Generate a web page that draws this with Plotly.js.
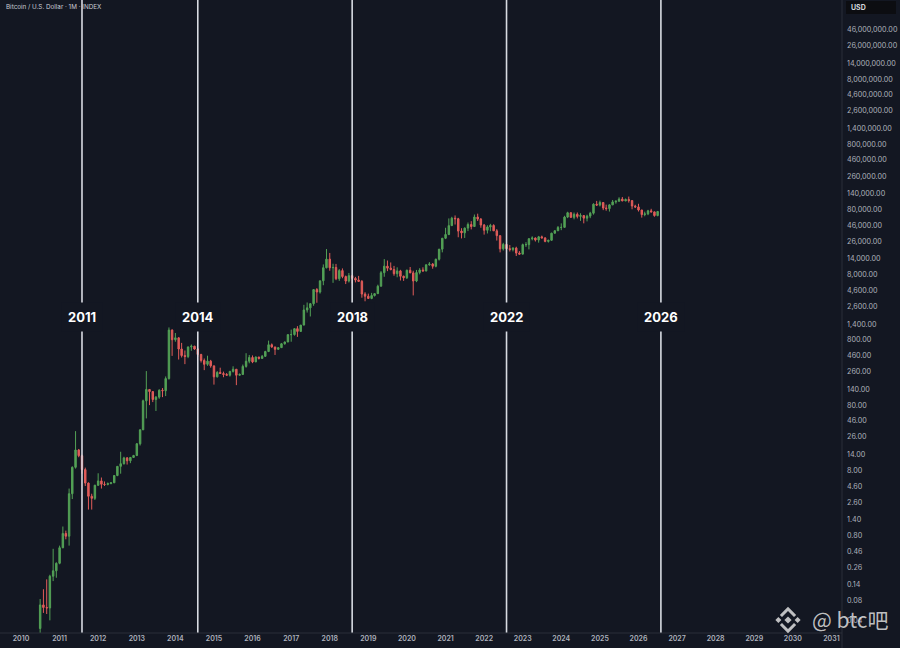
<!DOCTYPE html>
<html>
<head>
<meta charset="utf-8">
<script src="https://cdn.plot.ly/plotly-3.0.1.min.js"></script>
<style>
  html, body { margin: 0; padding: 0; background: #131722; }
  #chart { width: 900px; height: 648px; }
</style>
</head>
<body>
<div id="chart"></div>
<script>
// ---- Data: monthly BTC/USD candles, Jul 2010 .. Jul 2026 ----
const startYear = 2010, startMonth = 7;

const openP = [
  0.03, 0.069, 0.063, 0.062, 0.19, 0.23,
  0.30, 0.52, 0.86, 0.78, 3.5, 8.9, 16.4, 13.4, 8.2, 5.1, 3.2, 2.97,
  4.72, 5.5, 4.9, 4.85, 5.0, 5.15, 6.65, 9.2, 10.1, 12.4, 11.2, 12.6,
  13.5, 20.4, 33.4, 93, 139, 129, 97.5, 106, 135, 133, 204, 1130,
  805, 860, 580, 460, 445, 625, 640, 580, 478, 387, 338, 378,
  320, 217, 254, 244, 236, 230, 263, 284, 230, 236, 314, 377,
  430, 368, 437, 416, 448, 531, 674, 624, 573, 609, 698, 742,
  963, 965, 1190, 1080, 1350, 2300, 2480, 2875, 4730, 4340, 6450, 10230,
  13860, 10220, 10330, 6940, 9240, 7490, 6390, 7730, 7020, 6630, 6320, 4040,
  3740, 3460, 3830, 4100, 5320, 8580, 10820, 10090, 9600, 8290, 9150, 7570,
  7190, 9350, 8530, 6410, 8630, 9450, 9140, 11350, 11650, 10780, 13800, 19700,
  28990, 33110, 45240, 58800, 57750, 37330, 35040, 41460, 47100, 43820, 61300, 57000,
  46200, 38470, 43190, 45540, 37640, 31790, 19940, 23300, 20050, 19420, 20490, 17170,
  16540, 23130, 23140, 28470, 29230, 27210, 30470, 29230, 25940, 26970, 34650, 37720,
  42280, 42580, 61170, 71330, 60640, 67520, 62680, 64630, 58980, 63330, 70220, 96410,
  93430, 102400, 84350, 82550, 94200, 104600, 107100, 115700, 108200, 114000, 109500, 90400,
  87600, 78600, 66900, 68500, 76300, 73500, 64500
];

const highP = [
  0.085, 0.12, 0.17, 0.2, 0.5, 0.31,
  0.56, 1.10, 0.95, 4.2, 9.2, 31.9, 17.0, 13.9, 8.8, 5.2, 3.5, 4.8,
  7.2, 6.2, 5.4, 5.2, 5.2, 6.7, 9.3, 15.4, 12.9, 12.8, 12.8, 13.8,
  21, 34, 97, 266, 140, 130, 110, 140, 146, 220, 1242, 1163,
  1020, 880, 720, 550, 630, 680, 650, 600, 490, 415, 458, 395,
  320, 265, 300, 261, 248, 268, 315, 285, 245, 335, 500, 470,
  462, 445, 440, 470, 545, 780, 705, 627, 615, 718, 755, 980,
  1150, 1210, 1300, 1350, 2760, 3000, 2920, 4760, 4980, 6470, 11500, 19800,
  17250, 11790, 11700, 9760, 9990, 7760, 8500, 7770, 7410, 7670, 6620, 4310,
  4100, 4210, 4140, 5620, 9100, 13880, 13200, 12330, 10920, 10370, 9500, 7750,
  9580, 10500, 9200, 9460, 10070, 10380, 11440, 12470, 12070, 14100, 19860, 29300,
  41950, 58350, 61780, 64850, 59590, 41330, 42400, 50500, 52950, 67000, 69000, 59100,
  47990, 45800, 48190, 47440, 40020, 31980, 24670, 25200, 22800, 21100, 21480, 18390,
  23950, 25250, 29190, 31000, 29820, 31430, 31800, 30200, 27480, 35200, 38420, 44700,
  48970, 64000, 73800, 72800, 71950, 72000, 70000, 65100, 66500, 73620, 99600, 108300,
  109350, 102500, 95000, 95700, 111900, 110500, 123200, 124500, 117900, 126200, 111000, 94600,
  97900, 79000, 74000, 79000, 82000, 74500, 76000
];

const lowP = [
  0.025, 0.052, 0.05, 0.04, 0.16, 0.18,
  0.29, 0.51, 0.70, 0.56, 2.9, 8.5, 12.7, 7.1, 4.6, 2.0, 2.0, 2.8,
  4.6, 4.2, 4.6, 4.7, 4.9, 5.1, 6.5, 7.1, 9.8, 9.8, 10.3, 12.4,
  13.2, 19.2, 33.2, 50, 80, 89, 65, 100, 106, 110, 197, 455,
  750, 400, 430, 340, 420, 545, 565, 440, 360, 275, 320, 300,
  165, 212, 240, 214, 225, 219, 253, 162, 225, 235, 300, 350,
  352, 365, 400, 412, 440, 520, 605, 470, 567, 605, 675, 740,
  750, 930, 890, 1060, 1340, 2100, 1830, 2670, 2970, 4110, 5520, 10000,
  9200, 6000, 6600, 6430, 7060, 5750, 6070, 5880, 6100, 6200, 3550, 3130,
  3400, 3370, 3700, 4080, 5320, 7440, 9070, 9330, 7710, 7300, 6520, 6430,
  6870, 8450, 3850, 6150, 8100, 8910, 8980, 10980, 9880, 10380, 13200, 17600,
  28130, 32300, 44960, 47050, 30000, 28800, 29280, 37330, 39600, 43280, 53260, 42000,
  32950, 34320, 37160, 37700, 26700, 17600, 18780, 19540, 18150, 18200, 15480, 16260,
  16500, 21350, 19570, 26940, 25810, 24800, 28860, 25160, 24900, 26560, 34100, 37630,
  38550, 41890, 59000, 59200, 56550, 58400, 53500, 49050, 52550, 58900, 66800, 90500,
  89200, 78200, 76600, 74400, 93400, 98200, 105100, 107300, 107300, 102000, 80600, 84400,
  74500, 60000, 63000, 65500, 72000, 62000, 63000
];

const closeP = [
  0.069, 0.063, 0.062, 0.19, 0.23, 0.30,
  0.52, 0.86, 0.78, 3.5, 8.9, 16.4, 13.4, 8.2, 5.1, 3.2, 2.97, 4.72,
  5.5, 4.9, 4.85, 5.0, 5.15, 6.65, 9.2, 10.1, 12.4, 11.2, 12.6, 13.5,
  20.4, 33.4, 93, 139, 129, 97.5, 106, 135, 133, 204, 1130, 805,
  860, 580, 460, 445, 625, 640, 580, 478, 387, 338, 378, 320,
  217, 254, 244, 236, 230, 263, 284, 230, 236, 314, 377, 430,
  368, 437, 416, 448, 531, 674, 624, 573, 609, 698, 742, 963,
  965, 1190, 1080, 1350, 2300, 2480, 2875, 4730, 4340, 6450, 10230, 13860,
  10220, 10330, 6940, 9240, 7490, 6390, 7730, 7020, 6630, 6320, 4040, 3740,
  3460, 3830, 4100, 5320, 8580, 10820, 10090, 9600, 8290, 9150, 7570, 7190,
  9350, 8530, 6410, 8630, 9450, 9140, 11350, 11650, 10780, 13800, 19700, 28990,
  33110, 45240, 58800, 57750, 37330, 35040, 41460, 47100, 43820, 61300, 57000, 46200,
  38470, 43190, 45540, 37640, 31790, 19940, 23300, 20050, 19420, 20490, 17170, 16540,
  23130, 23140, 28470, 29230, 27210, 30470, 29230, 25940, 26970, 34650, 37720, 42280,
  42580, 61170, 71330, 60640, 67520, 62680, 64630, 58980, 63330, 70220, 96410, 93430,
  102400, 84350, 82550, 94200, 104600, 107100, 115700, 108200, 114000, 109500, 90400, 87600,
  78600, 66900, 68500, 76300, 73500, 64500, 74500
];

// Cycle markers (vertical lines with year labels)
const cycleLabels = ['2011', '2014', '2018', '2022', '2026'];
const cycleDates  = ['2011-08-01', '2014-08-01', '2018-08-01', '2022-08-01', '2026-08-01'];

// Axis tick labels
const yearLabels = ['2010','2011','2012','2013','2014','2015','2016','2017','2018','2019','2020',
                    '2021','2022','2023','2024','2025','2026','2027','2028','2029','2030','2031'];
const priceLabels = ['0.04','0.08','0.14','0.26','0.46','0.80','1.40','2.60','4.60','8.00','14.00',
  '26.00','46.00','80.00','140.00','260.00','460.00','800.00','1,400.00','2,600.00','4,600.00',
  '8,000.00','14,000.00','26,000.00','46,000.00','80,000.00','140,000.00','260,000.00','460,000.00',
  '800,000.00','1,400,000.00','2,600,000.00','4,600,000.00','8,000,000.00','14,000,000.00',
  '26,000,000.00','46,000,000.00'];

// ---- Build ----
const dates = closeP.map((_, i) => {
  const m0 = (startMonth - 1) + i;
  const y = startYear + Math.floor(m0 / 12);
  const m = (m0 % 12) + 1;
  return y + '-' + String(m).padStart(2, '0') + '-01';
});
const priceVals = priceLabels.map(s => parseFloat(s.replace(/,/g, '')));
const yearVals = yearLabels.map(y => y + '-01-01');

const W = 842, H = 633; // plot area in px
const px = x => x / W;
const py = y => 1 - y / H;

const BG = '#131722';
const UP = '#53a156';
const DOWN = '#e15c59';
const TXT = '#aeb2bd';
const WM = 'rgba(222,222,222,0.85)';

const trace = {
  type: 'candlestick',
  x: dates, open: openP, high: highP, low: lowP, close: closeP,
  increasing: { line: { color: UP, width: 1 }, fillcolor: UP },
  decreasing: { line: { color: DOWN, width: 1 }, fillcolor: DOWN },
  whiskerwidth: 0,
  hoverinfo: 'none',
  showlegend: false
};

const shapes = [];
cycleDates.forEach(d => shapes.push({
  type: 'line', xref: 'x', yref: 'paper', x0: d, x1: d, y0: 0, y1: 1,
  line: { color: '#d8dbe2', width: 1.6 }, layer: 'above'
}));
// axis borders
shapes.push({ type: 'line', xref: 'paper', yref: 'paper', x0: 0, x1: 1, y0: 0, y1: 0,
  line: { color: '#2a2e39', width: 1 } });
shapes.push({ type: 'line', xref: 'paper', yref: 'paper', x0: 1, x1: 1, y0: py(648), y1: 1,
  line: { color: '#2a2e39', width: 1 } });
// USD box
shapes.push({ type: 'rect', xref: 'paper', yref: 'paper', x0: px(846), x1: px(896), y0: py(14), y1: py(1),
  fillcolor: '#0c0d11', line: { width: 0 } });

// Binance-style logo of the watermark
const cx = 788, cy = 620, s = 1.2;
function poly(pts) {
  return 'M ' + pts.map(p => px(cx + s * p[0]) + ',' + py(cy + s * p[1])).join(' L ') + ' Z';
}
function diamond(ox, oy, r) { return poly([[ox, oy - r], [ox + r, oy], [ox, oy + r], [ox - r, oy]]); }
const logoPaths = [
  diamond(0, 0, 3.0), diamond(-8, 0, 2.5), diamond(8, 0, 2.5),
  poly([[0, -11], [6.8, -4.2], [5.0, -2.4], [0, -7.4], [-5.0, -2.4], [-6.8, -4.2]]),
  poly([[0, 11], [6.8, 4.2], [5.0, 2.4], [0, 7.4], [-5.0, 2.4], [-6.8, 4.2]])
];
logoPaths.forEach(p => shapes.push({ type: 'path', xref: 'paper', yref: 'paper', path: p,
  fillcolor: WM, line: { width: 0 }, layer: 'above' }));

const annotations = [];
cycleLabels.forEach((t, i) => annotations.push({
  text: t, x: cycleDates[i], xref: 'x', y: py(317), yref: 'paper',
  showarrow: false, xanchor: 'center', yanchor: 'middle',
  bgcolor: BG, borderpad: 6,
  font: { family: 'Inter, Roboto, sans-serif', size: 13, color: '#ffffff', weight: 700 }
}));
annotations.push({
  text: 'Bitcoin / U.S. Dollar · 1M · INDEX', x: px(4), y: py(7), xref: 'paper', yref: 'paper',
  xanchor: 'left', yanchor: 'middle', showarrow: false,
  font: { family: 'Inter, Roboto, sans-serif', size: 6.3, color: '#c9ccd4' }
});
annotations.push({
  text: 'USD', x: px(849), y: py(7.5), xref: 'paper', yref: 'paper',
  xanchor: 'left', yanchor: 'middle', showarrow: false,
  font: { family: 'Inter, Roboto, sans-serif', size: 7, color: '#d1d4dc', weight: 700 }
});
annotations.push({
  text: '@ btc吧', x: px(850), y: py(619), xref: 'paper', yref: 'paper',
  xanchor: 'center', yanchor: 'middle', showarrow: false,
  font: { family: '"Noto Sans CJK SC", "Noto Sans", sans-serif', size: 21, color: WM }
});

const layout = {
  width: 900, height: 648,
  margin: { l: 0, r: 58, t: 0, b: 15, pad: 0 },
  paper_bgcolor: BG, plot_bgcolor: BG,
  hovermode: false, dragmode: false, showlegend: false,
  font: { family: 'Inter, Roboto, sans-serif', color: TXT },
  xaxis: {
    type: 'date', range: ['2009-06-16', '2031-04-11'],
    tickmode: 'array', tickvals: yearVals, ticktext: yearLabels,
    tickfont: { size: 7, color: TXT, weight: 600 },
    showgrid: false, zeroline: false, showline: false, ticks: '',
    rangeslider: { visible: false }, fixedrange: true
  },
  yaxis: {
    type: 'log', side: 'right', range: [-1.592, 8.116],
    tickmode: 'array', tickvals: priceVals, ticktext: priceLabels,
    tickfont: { size: 7.2, color: TXT },
    showgrid: false, zeroline: false, showline: false, ticks: '',
    ticklabelstandoff: 4, fixedrange: true
  },
  shapes: shapes,
  annotations: annotations
};

Plotly.newPlot('chart', [trace], layout, { displayModeBar: false, staticPlot: true });
</script>
</body>
</html>
